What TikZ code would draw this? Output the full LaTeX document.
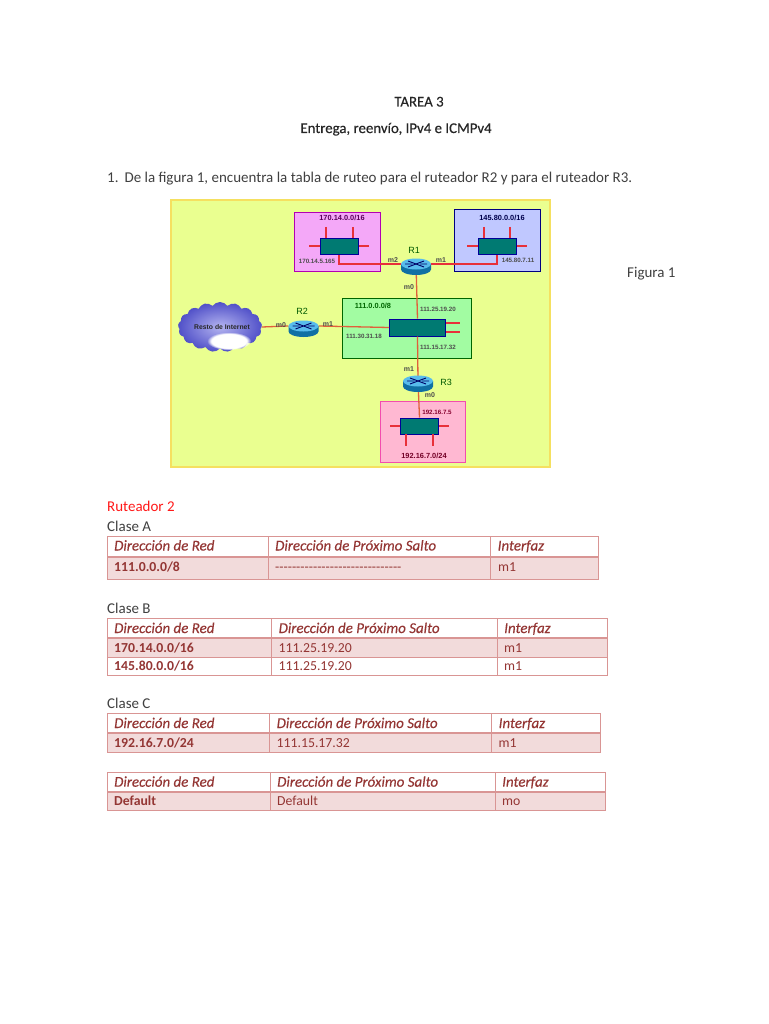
\documentclass[tikz,border=0pt]{standalone}
\usepackage{fontspec}
\setmainfont{Carlito}
\newfontfamily\arialfont{Liberation Sans}
\newfontfamily\titulofont[FakeBold=0.35]{Carlito}
\newfontfamily\cabezafont[FakeBold=0.25,ItalicFeatures={FakeBold=0.25}]{Carlito}
\usetikzlibrary{shapes.geometric,shapes.symbols,fadings}
\definecolor{fondo}{HTML}{EAFF90}
\definecolor{borde}{HTML}{F5E060}
\definecolor{rosa}{HTML}{F4A8F8}
\definecolor{azul}{HTML}{C0C8FF}
\definecolor{verde}{HTML}{A2FCA2}
\definecolor{rosado}{HTML}{FFB8D2}
\definecolor{hubcolor}{HTML}{007A72}
\definecolor{rojo}{HTML}{E8303A}
\definecolor{naranja}{HTML}{E0603A}
\definecolor{tinta}{HTML}{943634}
\definecolor{celda}{HTML}{F2DBDB}
\definecolor{linea}{HTML}{D99594}
\definecolor{texto}{HTML}{404040}
\definecolor{rtrtop}{HTML}{58BCEC}
\definecolor{rtrbase}{HTML}{1070A4}
\definecolor{nubeout}{HTML}{5050C8}
\definecolor{nubein}{HTML}{B4B4F0}
\tikzset{
  hub/.style={draw=blue!60!black,fill=hubcolor,line width=1pt,inner sep=0pt},
  stub/.style={draw=rojo,line width=1.1pt},
  enlace/.style={draw=rojo,line width=1.5pt},
  enlaceb/.style={draw=naranja,line width=1.3pt},
  rtr/.style={ellipse,minimum width=30pt,minimum height=11pt,inner sep=0pt},
  ip/.style={font=\arialfont\fontsize{6.2}{7}\selectfont\bfseries,text=black!70,inner sep=0pt},
  red/.style={font=\arialfont\fontsize{7.4}{8}\selectfont\bfseries,inner sep=0pt},
  puerto/.style={font=\arialfont\fontsize{7}{8}\selectfont\bfseries,text=black!70,inner sep=0pt},
  nombre/.style={font=\arialfont\fontsize{9}{10}\selectfont,text=green!35!black,inner sep=0pt},
  titular/.style={font=\titulofont\fontsize{14.85}{17}\selectfont,text=black!85,anchor=base,inner sep=0pt},
  cuerpo/.style={font=\fontsize{14.97}{17}\selectfont,text=texto,anchor=base west,inner sep=0pt},
  cabeza/.style={font=\cabezafont\fontsize{14.95}{17}\selectfont\itshape,text=tinta,anchor=base west,inner sep=0pt},
  dato/.style={font=\fontsize{13.75}{16}\selectfont,text=tinta,anchor=base west,inner sep=0pt},
  datob/.style={dato,font=\fontsize{13.75}{16}\selectfont\bfseries},
  marco/.style={draw=linea,line width=1pt}
}
\newcommand{\cuerpoRouter}[2]{
  \fill[rtrbase] (#1-15,#2) -- (#1-15,#2+5.5) arc[start angle=180,end angle=0,x radius=15,y radius=5.5] -- (#1+15,#2) -- cycle;
  \fill[rtrtop] (#1,#2) ellipse (15 and 5.5);
  \draw[blue!40!black,line width=0.9pt] (#1-8,#2-3) -- (#1+8,#2+3) (#1-8,#2+3) -- (#1+8,#2-3) (#1-11,#2) -- (#1-4,#2) (#1+4,#2) -- (#1+11,#2);
}
\begin{document}
\begin{tikzpicture}[x=1pt,y=-1pt]
  \fill[white] (0,0) rectangle (768,1024);
  \useasboundingbox (0,0) rectangle (768,1024);

  \node[titular] (titulo) at (419,106.5) {TAREA 3};
  \node[titular] (subtitulo) at (396,133) {Entrega, reenvío, IPv4 e ICMPv4};
  \node[cuerpo] (pregunta) at (107,182.5) {1.\hspace{6pt}De la figura 1, encuentra la tabla de ruteo para el ruteador R2 y para el ruteador R3.};
  \node[cuerpo] (figura) at (627,277) {Figura 1};

  \filldraw[fill=fondo,draw=borde,line width=1.2pt] (171,200) rectangle (550,467);
  \filldraw[fill=rosa,draw=violet!60!magenta,line width=0.8pt] (294,212) rectangle (380,271);
  \filldraw[fill=azul,draw=blue!50!black,line width=0.9pt] (454,209) rectangle (540,271);
  \filldraw[fill=verde,draw=green!40!black,line width=0.9pt] (342,298) rectangle (471,358);
  \filldraw[fill=rosado,draw=magenta!70!white,line width=0.9pt] (380,401) rectangle (465,462);

  \node[rtr] (R1) at (416,264) {};
  \node[rtr] (R2) at (303.5,326) {};
  \node[rtr] (R3) at (418,381) {};
  \node[cloud,cloud puffs=17,cloud puff arc=110,aspect=1.7,minimum width=84pt,minimum height=50pt,inner sep=0pt,inner color=nubein,outer color=nubeout] (nube) at (220,327) {};
  \fill[white,path fading=circle with fuzzy edge 20 percent] (229,341) ellipse (22 and 9);
  \node[font=\arialfont\fontsize{6.8}{8}\selectfont\bfseries,text=black!85,inner sep=0pt] (resto) at (222,327) {Resto de Internet};

  \node[hub,minimum width=38pt,minimum height=16pt] (hubA) at (339,246) {};
  \node[hub,minimum width=38pt,minimum height=16pt] (hubB) at (497,246) {};
  \node[hub,minimum width=56pt,minimum height=17pt] (hubC) at (417.5,327.5) {};
  \node[hub,minimum width=38pt,minimum height=16pt] (hubD) at (419.5,426) {};

  \draw[stub] (326,227) -- (326,238);
  \draw[stub] (353,227) -- (353,238);
  \draw[stub] (309,246) -- (hubA.west);
  \draw[stub] (hubA.east) -- (369,246);
  \draw[stub] (484,227) -- (484,238);
  \draw[stub] (510,227) -- (510,238);
  \draw[stub] (467,246) -- (hubB.west);
  \draw[stub] (hubB.east) -- (527,246);
  \draw[stub] (446,323) -- (460,323);
  \draw[stub] (446,332) -- (460,332);
  \draw[stub] (390,426) -- (hubD.west);
  \draw[stub] (hubD.east) -- (449,426);
  \draw[stub] (406,434) -- (406,446);
  \draw[stub] (433,434) -- (433,446);

  \draw[enlace] (R1.west) -| (hubA.south);
  \draw[enlace] (R1.east) -| (hubB.south);
  \draw[enlaceb] (R1.center) -- (hubC.north);
  \draw[enlaceb] (nube.east) -- (R2.west);
  \draw[enlaceb] (R2.east) -- (hubC.west);
  \draw[enlaceb] (hubC.south) -- (R3.center);
  \draw[enlaceb] (R3.center) -- (hubD.north);

  \cuerpoRouter{416}{264}
  \cuerpoRouter{303.5}{326}
  \cuerpoRouter{418}{381}

  \node[red,text=violet!70!black] (redA) at (342,218) {170.14.0.0/16};
  \node[red,text=blue!30!black] (redB) at (502,218) {145.80.0.0/16};
  \node[red,text=green!40!black] (redC) at (373,306) {111.0.0.0/8};
  \node[red,text=purple!60!black] (redD) at (424,456) {192.16.7.0/24};
  \node[ip] (ipA) at (317,261) {170.14.5.165};
  \node[ip] (ipB) at (518,260) {145.80.7.11};
  \node[ip] (ipC) at (438,309) {111.25.19.20};
  \node[ip] (ipD) at (364,336) {111.30.31.18};
  \node[ip] (ipE) at (438,347) {111.15.17.32};
  \node[ip,text=purple!70!black] (ipF) at (437,412) {192.16.7.5};
  \node[nombre] (nomA) at (414,250) {R1};
  \node[nombre] (nomB) at (302,311) {R2};
  \node[nombre] (nomC) at (446,382) {R3};
  \node[puerto] (pA) at (393,260) {m2};
  \node[puerto] (pB) at (441,260) {m1};
  \node[puerto] (pC) at (409,287) {m0};
  \node[puerto] (pD) at (281,325) {m0};
  \node[puerto] (pE) at (328,324) {m1};
  \node[puerto] (pF) at (409,369) {m1};
  \node[puerto] (pG) at (430,395) {m0};

  \node[cuerpo,text=red!90!white] (ruteador) at (107,511) {Ruteador 2};
  \node[cuerpo] (claseA) at (107,531) {Clase A};
  \node[cuerpo] (claseB) at (107,613) {Clase B};
  \node[cuerpo] (claseC) at (107,708) {Clase C};

  \fill[celda] (107,557) rectangle (598,579);
  \fill[celda] (107,638) rectangle (607,657);
  \fill[celda] (107,733) rectangle (600,752);
  \fill[celda] (107,792) rectangle (605,810);
  \draw[marco] (107,536) rectangle (598,579);
  \draw[marco] (107,618) rectangle (607,675);
  \draw[marco] (107,713) rectangle (600,752);
  \draw[marco] (107,772) rectangle (605,810);
  \draw[marco] (107,657) -- (607,657);

  \draw[marco] (268,536) -- (268,579);
  \draw[marco] (490.5,536) -- (490.5,579);
  \draw[marco] (271.5,618) -- (271.5,675);
  \draw[marco] (497,618) -- (497,675);
  \draw[marco] (269.5,713) -- (269.5,752);
  \draw[marco] (491.5,713) -- (491.5,752);
  \draw[marco] (270,772) -- (270,810);
  \draw[marco] (495,772) -- (495,810);

  \foreach \t/\a/\b/\c/\d/\y/\z in {A/107/268/490.5/598/557/550.5,B/107/271.5/497/607/638/633,C/107/269.5/491.5/600/733/728,D/107/270/495/605/792/786.7}{
    \draw[marco,line width=1.6pt] (\a,\y) -- (\d,\y);
    \node[cabeza] (cab\t a) at (\a+7,\z) {Dirección de Red};
    \node[cabeza] (cab\t b) at (\b+7,\z) {Dirección de Próximo Salto};
    \node[cabeza] (cab\t c) at (\c+7,\z) {Interfaz};
  }

  \node[datob] (filaA) at (114,571.5) {111.0.0.0/8};
  \node[dato] (saltoA) at (275,571.5) {\addfontfeature{Ligatures=TeXOff}------------------------------};
  \node[dato] (ifaceA) at (498,571.5) {m1};
  \node[datob] (filaB) at (114,652) {170.14.0.0/16};
  \node[dato] (saltoB) at (278.5,652) {111.25.19.20};
  \node[dato] (ifaceB) at (504,652) {m1};
  \node[datob] (filaBb) at (114,670.5) {145.80.0.0/16};
  \node[dato] (saltoBb) at (278.5,670.5) {111.25.19.20};
  \node[dato] (ifaceBb) at (504,670.5) {m1};
  \node[datob] (filaC) at (114,747) {192.16.7.0/24};
  \node[dato] (saltoC) at (276.5,747) {111.15.17.32};
  \node[dato] (ifaceC) at (498.5,747) {m1};
  \node[datob] (filaD) at (114,805.5) {Default};
  \node[dato] (saltoD) at (277,805.5) {Default};
  \node[dato] (ifaceD) at (502,805.5) {mo};
\end{tikzpicture}
\end{document}
